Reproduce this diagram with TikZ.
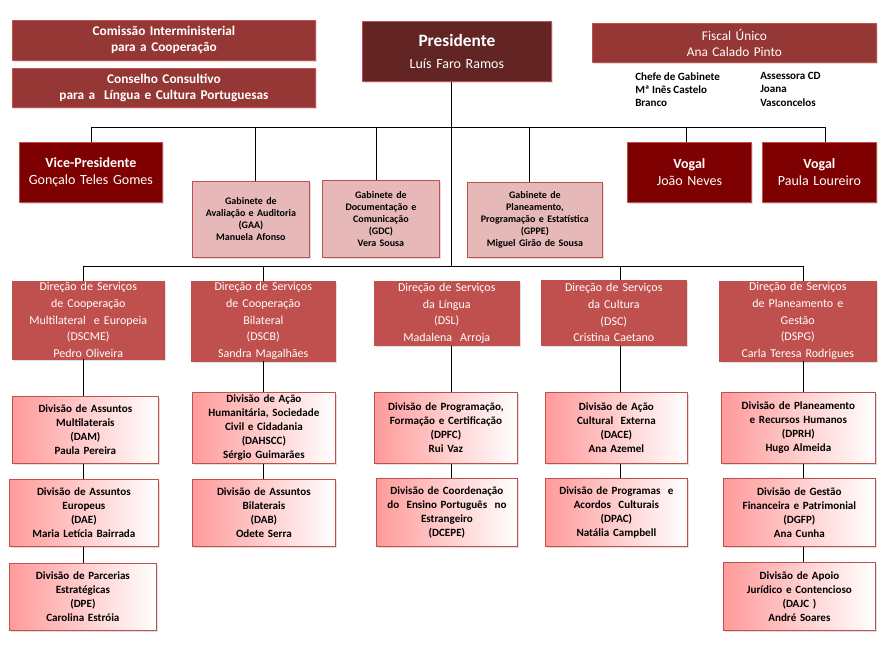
\documentclass[tikz,border=0pt]{standalone}
\usepackage{fontspec}
\setmainfont{Carlito}
\usetikzlibrary{shadows}
\definecolor{cdark}{HTML}{953735}
\definecolor{cpres}{HTML}{632523}
\definecolor{cvog}{HTML}{7F0000}
\definecolor{cred}{HTML}{C0504D}
\definecolor{cgab}{HTML}{E6B9B8}
\definecolor{cdivl}{HTML}{FF9A9A}
\tikzset{
  base/.style={anchor=north west,align=center,inner sep=1pt,drop shadow={opacity=0.25,shadow xshift=1.5pt,shadow yshift=-1.5pt}},
  sz/.style 2 args={minimum width=#1*0.75pt,minimum height=#2*0.75pt,text width=#1*0.75pt-4pt},
  top/.style={base,fill=cdark,draw=cred,line width=0.6pt,text=white,font=\fontsize{10}{12}\selectfont\bfseries},
  vog/.style={base,fill=cvog,draw=cred,line width=0.6pt,text=white,font=\fontsize{10.5}{13}\selectfont},
  gab/.style={base,fill=cgab,draw=cred,line width=0.6pt,font=\fontsize{7.5}{9}\selectfont\bfseries},
  dir/.style={base,fill=cred,draw=cred,text=white,font=\fontsize{9}{12.5}\selectfont},
  div/.style={base,left color=cdivl,right color=white,draw=cred,line width=0.6pt,font=\fontsize{8.3}{10.5}\selectfont\bfseries},
  ln/.style={line width=0.7pt}}
\begin{document}
\begin{tikzpicture}[x=0.75pt,y=-0.75pt]
\useasboundingbox (0,0) rectangle (893,648);
\foreach \xx in {83,91,255,263,376,451,529,620,686,803,825} {\coordinate (x\xx) at (\xx,0);}
% top
\node[top,sz={303}{40}] (cic) at (12,20) {Comissão Interministerial\\para a Cooperação};
\node[top,sz={303}{39}] (ccl) at (12,68) {Conselho Consultivo\\para a \ Língua e Cultura Portuguesas};
\node[base,fill=cpres,draw=cred,line width=0.6pt,text=white,sz={189}{60},font=\fontsize{10.5}{16}\selectfont] (pres) at (362,21) {{\fontsize{13}{16}\selectfont\bfseries Presidente}\\Luís Faro Ramos};
\node[base,fill=cdark,draw=cred,line width=0.6pt,text=white,sz={284}{39},font=\fontsize{10}{12}\selectfont] (fisc) at (592,23) {Fiscal Único\\Ana Calado Pinto};
\node[anchor=north west,align=left,inner sep=0pt,font=\fontsize{8.3}{10}\selectfont\bfseries] (chefe) at (635,72) {Chefe de Gabinete\\Mª Inês Castelo\\Branco};
\node[anchor=north west,align=left,inner sep=0pt,font=\fontsize{8.3}{10}\selectfont\bfseries] (asse) at (760,72) {Assessora CD\\Joana\\Vasconcelos};
% level 2
\node[vog,sz={143}{60}] (vp) at (19,142) {\textbf{Vice-Presidente}\\Gonçalo Teles Gomes};
\node[vog,sz={124}{60}] (v1) at (627,142) {\textbf{Vogal}\\João Neves};
\node[vog,sz={114}{60}] (v2) at (762,142) {\textbf{Vogal}\\Paula Loureiro};
\node[gab,sz={117}{76}] (gaa) at (192,181) {Gabinete de\\Avaliação e Auditoria\\(GAA)\\Manuela Afonso};
\node[gab,sz={117}{77}] (gdc) at (322,180) {Gabinete de\\Documentação e\\Comunicação\\(GDC)\\Vera Sousa};
\node[gab,sz={135}{75}] (gppe) at (467,182) {Gabinete de\\Planeamento,\\Programação e Estatística\\(GPPE)\\Miguel Girão de Sousa};
% directions
\node[dir,sz={152}{64}] (d1) at (12,281) {Direção de Serviços\\de Cooperação\\Multilateral \ e Europeia\\(DSCME)\\Pedro Oliveira};
\node[dir,sz={144}{64}] (d2) at (191,281) {Direção de Serviços\\de Cooperação\\Bilateral\\(DSCB)\\Sandra Magalhães};
\node[dir,sz={145}{64}] (d3) at (374,281) {Direção de Serviços\\da Língua\\(DSL)\\Madalena \ Arroja};
\node[dir,sz={145}{65}] (d4) at (541,280) {Direção de Serviços\\da Cultura\\(DSC)\\Cristina Caetano};
\node[dir,sz={157}{65}] (d5) at (719,281) {Direção de Serviços\\de Planeamento e\\Gestão\\(DSPG)\\Carla Teresa Rodrigues};
% divisions
\node[div,sz={146}{67}] (dam) at (12,396) {Divisão de Assuntos\\Multilaterais\\(DAM)\\Paula Pereira};
\node[div,sz={149}{67}] (dae) at (9,479) {Divisão de Assuntos\\Europeus\\(DAE)\\Maria Letícia Bairrada};
\node[div,sz={147}{67}] (dpe) at (9,563) {Divisão de Parcerias\\Estratégicas\\(DPE)\\Carolina Estróia};
\node[div,sz={143}{71}] (dah) at (192,392) {Divisão de Ação\\Humanitária, Sociedade\\Civil e Cidadania\\(DAHSCC)\\Sérgio Guimarães};
\node[div,sz={143}{67}] (dab) at (192,479) {Divisão de Assuntos\\Bilaterais\\(DAB)\\Odete Serra};
\node[div,sz={143}{71}] (dpfc) at (374,392) {Divisão de Programação,\\Formação e Certificação\\(DPFC)\\Rui Vaz\\[1.2em]};
\node[div,sz={141}{68}] (dcepe) at (376,478) {Divisão de Coordenação\\do \ Ensino Português \ no\\Estrangeiro\\(DCEPE)};
\node[div,sz={142}{71}] (dace) at (545,392) {Divisão de Ação\\Cultural \ Externa\\(DACE)\\Ana Azemel\\[1.2em]};
\node[div,sz={142}{68}] (dpac) at (545,478) {Divisão de Programas \ e\\Acordos \ Culturais\\(DPAC)\\Natália Campbell\\[1.2em]};
\node[div,sz={154}{71}] (dprh) at (721,392) {Divisão de Planeamento\\e Recursos Humanos\\(DPRH)\\Hugo Almeida\\[1.2em]};
\node[div,sz={152}{68}] (dgfp) at (723,478) {Divisão de Gestão\\Financeira e Patrimonial\\(DGFP)\\Ana Cunha\\[1.2em]};
\node[div,sz={152}{68}] (dajc) at (723,562) {Divisão de Apoio\\Jurídico e Contencioso\\(DAJC )\\André Soares\\[1.2em]};
% connectors
\coordinate (h1a) at (91,127);
\coordinate (h1b) at (825,127);
\coordinate (h2a) at (83,266);
\coordinate (h2b) at (803,266);
\draw[ln] (pres.south -| x451) -- (h2a -| x451);
\draw[ln] (h1a) -- (h1b);
\draw[ln] (h2a) -- (h2b);
\draw[ln] (h1a) -- (vp.north -| x91);
\draw[ln] (h1a -| x255) -- (gaa.north -| x255);
\draw[ln] (h1a -| x376) -- (gdc.north -| x376);
\draw[ln] (h1a -| x529) -- (gppe.north -| x529);
\draw[ln] (h1a -| x686) -- (v1.north -| x686);
\draw[ln] (h1b) -- (v2.north -| x825);
\draw[ln] (h2a) -- (d1.north -| x83);
\draw[ln] (h2a -| x263) -- (d2.north -| x263);
\draw[ln] (h2a -| x620) -- (d4.north -| x620);
\draw[ln] (h2b) -- (d5.north -| x803);
\draw[ln] (d1.south -| x83) -- (dam.north -| x83);
\draw[ln] (dam.south -| x83) -- (dae.north -| x83);
\draw[ln] (dae.south -| x83) -- (dpe.north -| x83);
\draw[ln] (d2.south -| x263) -- (dah.north -| x263);
\draw[ln] (dah.south -| x263) -- (dab.north -| x263);
\draw[ln] (d3.south -| x451) -- (dpfc.north -| x451);
\draw[ln] (dpfc.south -| x451) -- (dcepe.north -| x451);
\draw[ln] (d4.south -| x620) -- (dace.north -| x620);
\draw[ln] (dace.south -| x620) -- (dpac.north -| x620);
\draw[ln] (d5.south -| x803) -- (dprh.north -| x803);
\draw[ln] (dprh.south -| x803) -- (dgfp.north -| x803);
\draw[ln] (dgfp.south -| x803) -- (dajc.north -| x803);
\end{tikzpicture}
\end{document}
